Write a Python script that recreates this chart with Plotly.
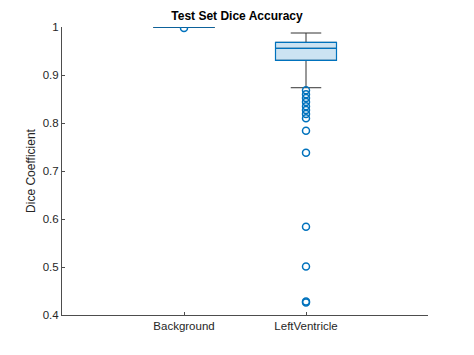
import plotly.graph_objects as go

categories = ["Background", "LeftVentricle"]
cat_pos = [1, 2]
q1 = [0.9995, 0.9306]
median = [0.9995, 0.9556]
q3 = [0.9995, 0.968]
lower_whisker = [0.9995, 0.8735]
upper_whisker = [0.9995, 0.9875]
outliers_bg = [0.998]
outliers_lv = [0.868, 0.860, 0.852, 0.844, 0.835, 0.827, 0.819, 0.810,
               0.784, 0.738, 0.584, 0.501, 0.428, 0.426]

blue = "#0072BD"
fig = go.Figure()

# whiskers (dark)
fig.add_trace(go.Box(
    x=cat_pos, q1=q1, median=median, q3=q3,
    lowerfence=lower_whisker, upperfence=upper_whisker,
    width=0.5, whiskerwidth=0.5,
    line=dict(color="#333333", width=1),
    fillcolor="rgba(0,0,0,0)", boxpoints=False, showlegend=False,
    hoverinfo="skip"))
# box (blue)
fig.add_trace(go.Box(
    x=cat_pos, q1=q1, median=median, q3=q3,
    lowerfence=q1, upperfence=q3,
    width=0.5, whiskerwidth=0,
    line=dict(color=blue, width=1.2),
    fillcolor="rgba(0,114,189,0.2)", boxpoints=False, showlegend=False))
# outliers
fig.add_trace(go.Scatter(
    x=[1] * len(outliers_bg) + [2] * len(outliers_lv),
    y=outliers_bg + outliers_lv, mode="markers",
    marker=dict(symbol="circle-open", size=7, color=blue, line=dict(width=1.5)),
    showlegend=False))

axis_color = "#4d4d4d"
fig.update_layout(
    width=474, height=355,
    margin=dict(l=62, r=46, t=27, b=40),
    plot_bgcolor="white", paper_bgcolor="white",
    boxmode="overlay",
    font=dict(family="Liberation Sans, Arial, sans-serif", size=11.5, color="#262626"),
    title=dict(text="<b>Test Set Dice Accuracy</b>", x=0.5, xanchor="center",
               y=1 - 16 / 355, yanchor="middle",
               font=dict(size=12, color="black")),
    xaxis=dict(range=[0, 3], tickvals=cat_pos, ticktext=categories,
               showgrid=False, zeroline=False, showline=True,
               linecolor=axis_color, linewidth=1, ticks="inside",
               ticklen=3, tickcolor=axis_color),
    yaxis=dict(range=[0.4, 1], tickvals=[0.4, 0.5, 0.6, 0.7, 0.8, 0.9, 1],
               ticktext=["0.4", "0.5", "0.6", "0.7", "0.8", "0.9", "1"],
               showgrid=False, zeroline=False, showline=True,
               linecolor=axis_color, linewidth=1, ticks="inside",
               ticklen=3, tickcolor=axis_color,
               title=dict(text="Dice Coefficient", standoff=4,
                          font=dict(size=12))),
)

fig.write_html("out.html")
